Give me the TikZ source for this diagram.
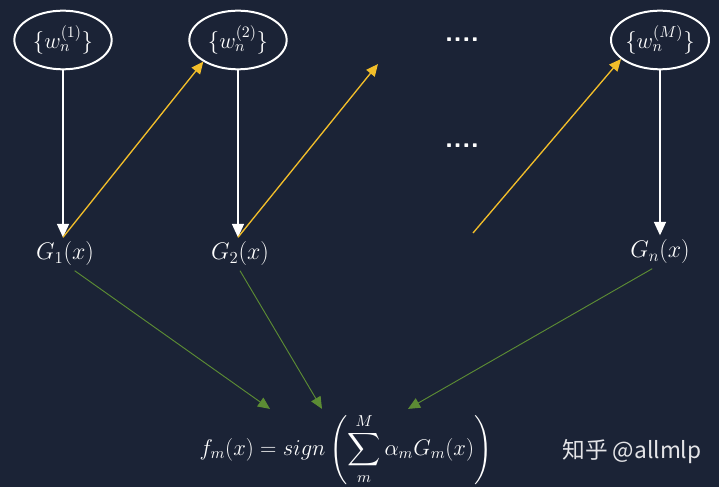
\RequirePackage{fix-cm}
\documentclass[tikz,border=0pt]{standalone}
\usepackage{amsmath}
\usepackage{fontspec}
\newfontfamily\cjk{Noto Sans CJK SC}
\usetikzlibrary{shapes.geometric,arrows.meta}
\definecolor{bg}{HTML}{1B2336}
\definecolor{gold}{HTML}{F2BE2A}
\definecolor{leaf}{HTML}{5C8C34}
\tikzset{
  wset/.style={ellipse,draw=white,line width=1.5pt,minimum width=73pt,minimum height=44pt,inner sep=0pt},
  lbl/.style={text=white,font=\fontsize{17}{20}\selectfont},
  gap/.style={text=white,font=\fontsize{21}{24}\selectfont\sffamily\bfseries},
  down/.style={white,line width=0.9pt,-{Triangle[width=9pt,length=10pt]}},
  up/.style={gold,line width=1pt,-{Triangle[width=8pt,length=9pt]}},
  combine/.style={leaf,line width=0.7pt,-{Triangle[width=8pt,length=9pt]}}
}
\begin{document}
\begin{tikzpicture}[x=0.75pt,y=-0.75pt]
\fill[bg] (0,0) rectangle (719,487);
\node[wset,lbl] (w1) at (63,40) {$\{w_n^{(1)}\}$};
\node[wset,lbl] (w2) at (238,40) {$\{w_n^{(2)}\}$};
\node[wset,lbl] (wM) at (660,40) {$\{w_n^{(M)}\}$};
\node[gap] (d1) at (462,40) {....};
\node[gap] (d2) at (462,146) {....};
\node[lbl,font=\fontsize{18}{21}\selectfont] (g1) at (65,254) {$G_1(x)$};
\node[lbl,font=\fontsize{18}{21}\selectfont] (g2) at (240,254) {$G_2(x)$};
\node[lbl,font=\fontsize{18}{21}\selectfont] (gn) at (660,252) {$G_n(x)$};
\coordinate (a3) at (378,64);
\coordinate (bM) at (473,233);
\node[lbl] (f) at (346,449) {$\displaystyle f_m(x)=sign\left(\sum_m^M\alpha_m G_m(x)\right)$};
\node[text=white!88!bg,font=\cjk\fontsize{17}{20}\selectfont] (zh) at (632,452) {知乎 @allmlp};
% weights down to the learners
\draw[down] (w1) -- (w1 |- g1.north);
\draw[down] (w2) -- (w2 |- g2.north);
\draw[down] (wM) -- (wM |- gn.north);
% reweighting
\draw[up] (w1 |- g1.north) -- (w2.212);
\draw[up] (w2 |- g2.north) -- (a3);
\draw[up] (bM) -- (wM.206);
% combination
\draw[combine] (g1.-60) -- ([xshift=-57pt]f.north);
\draw[combine] (g2.south) -- ([xshift=-18pt]f.north);
\draw[combine] (gn.-115) -- ([xshift=46.5pt]f.north);
\end{tikzpicture}
\end{document}
